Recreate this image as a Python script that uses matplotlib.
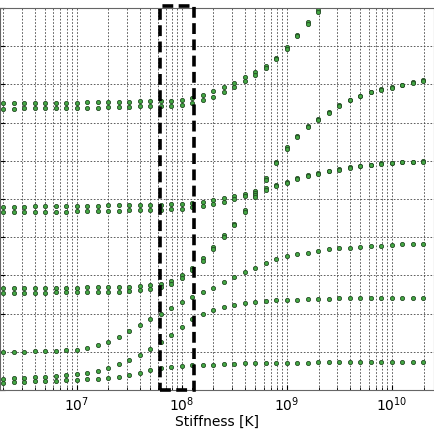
import numpy as np
import matplotlib
matplotlib.use("Agg")
import matplotlib.pyplot as plt
from matplotlib.patches import Rectangle

# log10 of stiffness, 0.1 decade steps
log_k = [round(6.3 + 0.1 * i, 1) for i in range(41)]

a1 = [7.50, 7.50, 7.51, 7.51, 7.51, 7.52, 7.52, 7.52, 7.53, 7.53, 7.53, 7.54, 7.54, 7.55, 7.55, 7.56, 7.57,
      7.58, 7.64, 7.72, 7.82, 7.93, 8.04, 8.18, 8.32, 8.47, 8.70, 8.98, 9.30, 9.62, 9.95, 10.3]
a2 = [7.36, 7.36, 7.37, 7.37, 7.37, 7.38, 7.38, 7.38, 7.39, 7.39, 7.40, 7.40, 7.41, 7.42, 7.42, 7.43, 7.44,
      7.46, 7.51, 7.58, 7.68, 7.80, 7.93, 8.08, 8.24, 8.42, 8.66, 8.93, 9.25, 9.57, 9.90, 10.25]
b1 = [4.80, 4.80, 4.80, 4.81, 4.81, 4.81, 4.81, 4.82, 4.82, 4.82, 4.83, 4.83, 4.83, 4.84, 4.84, 4.85, 4.86, 4.88,
      4.90, 4.93, 4.97, 5.02, 5.07, 5.13, 5.20, 5.28, 5.37, 5.45, 5.54, 5.62, 5.68, 5.73, 5.78, 5.83, 5.87, 5.90,
      5.93, 5.95, 5.97, 5.98, 5.99]
b2 = [4.66, 4.66, 4.66, 4.67, 4.67, 4.67, 4.67, 4.68, 4.68, 4.68, 4.69, 4.69, 4.70, 4.70, 4.71, 4.72, 4.73, 4.75,
      4.78, 4.82, 4.87, 4.93, 5.00, 5.07, 5.15, 5.24, 5.33, 5.42, 5.51, 5.60, 5.66, 5.72, 5.77, 5.82, 5.86, 5.89,
      5.92, 5.94, 5.96, 5.97, 5.98]
c1 = [2.67, 2.67, 2.67, 2.67, 2.68, 2.68, 2.68, 2.68, 2.69, 2.69, 2.70, 2.70, 2.71,
      2.72, 2.74, 2.78, 2.86, 3.00, 3.20, 3.45, 3.75, 4.05, 4.35, 4.70, 5.10, 5.55, 5.98, 6.36, 6.65, 6.90, 7.08,
      7.28, 7.45, 7.60, 7.70, 7.80, 7.87, 7.92, 7.98, 8.05, 8.10]
c2 = [2.54, 2.54, 2.55, 2.55, 2.55, 2.56, 2.56, 2.56, 2.57, 2.57, 2.58, 2.58, 2.59,
      2.61, 2.64, 2.69, 2.78, 2.93, 3.13, 3.39, 3.69, 4.00, 4.31, 4.66, 5.06, 5.50, 5.93, 6.32, 6.62, 6.88, 7.06,
      7.26, 7.43, 7.58, 7.69, 7.79, 7.86, 7.91, 7.97, 8.04, 8.09]
d = [1.00, 1.01, 1.01, 1.02, 1.02, 1.03, 1.04,
     1.05, 1.10, 1.17, 1.27, 1.40, 1.55, 1.70, 1.85, 2.00, 2.15, 2.30, 2.43, 2.56, 2.68, 2.82, 2.95, 3.08, 3.20,
     3.32, 3.42, 3.50, 3.56, 3.60, 3.64, 3.68, 3.71, 3.73, 3.75, 3.77, 3.78, 3.80, 3.81, 3.82, 3.82]
e = [0.30, 0.31, 0.32, 0.34, 0.35, 0.37, 0.39,
     0.42, 0.45, 0.50, 0.58, 0.68, 0.80, 0.93, 1.08, 1.25, 1.45, 1.65, 1.85, 2.00, 2.10, 2.18, 2.24, 2.28, 2.31,
     2.33, 2.35, 2.36, 2.37, 2.38, 2.39, 2.39, 2.40, 2.40, 2.41, 2.41, 2.41, 2.42, 2.42, 2.42, 2.42]
f = [0.20, 0.21, 0.22, 0.23, 0.24, 0.25, 0.26, 0.27, 0.28, 0.30, 0.32, 0.35, 0.40, 0.46, 0.52, 0.57, 0.60, 0.63,
     0.65, 0.66, 0.67, 0.68, 0.69, 0.70, 0.70, 0.71, 0.71, 0.72, 0.72, 0.72, 0.73, 0.73, 0.73, 0.73, 0.73, 0.73,
     0.74, 0.74, 0.74, 0.74, 0.74]

box_k = (6.2e7, 1.3e8)

fig = plt.figure(figsize=(4.34, 4.34), dpi=100)
ax = fig.add_axes([0.0, 0.101, 1.0, 0.881])

k = 10 ** np.array(log_k)
for ys in (a1, a2, b1, b2, c1, c2, d, e, f):
    ax.plot(k[:len(ys)], ys, linestyle="none", marker="o", markersize=3.0,
            markerfacecolor="#44a844", markeredgecolor="#234a23", markeredgewidth=0.6)

ax.add_patch(Rectangle((box_k[0], 0.0), box_k[1] - box_k[0], 10.05, fill=False,
                       edgecolor="black", linewidth=2.6, linestyle=(0, (3, 1.5)), clip_on=False, zorder=5))

ax.set_xscale("log")
ax.set_xlim(10 ** 6.27, 10 ** 10.4)
ax.set_ylim(0, 10)
ax.set_yticks(np.arange(0, 11, 1))
ax.set_yticklabels([])
ax.grid(True, which="both", axis="x", linestyle=(0, (2, 2)), color="#444444", linewidth=0.6)
ax.grid(True, which="major", axis="y", linestyle=(0, (2, 2)), color="#444444", linewidth=0.6)
ax.tick_params(which="both", direction="in", labelsize=10)
ax.set_xlabel("Stiffness [K]", fontsize=10, labelpad=1)
for s in ax.spines.values():
    s.set_color("#666666")

fig.savefig("out.png", dpi=100)
